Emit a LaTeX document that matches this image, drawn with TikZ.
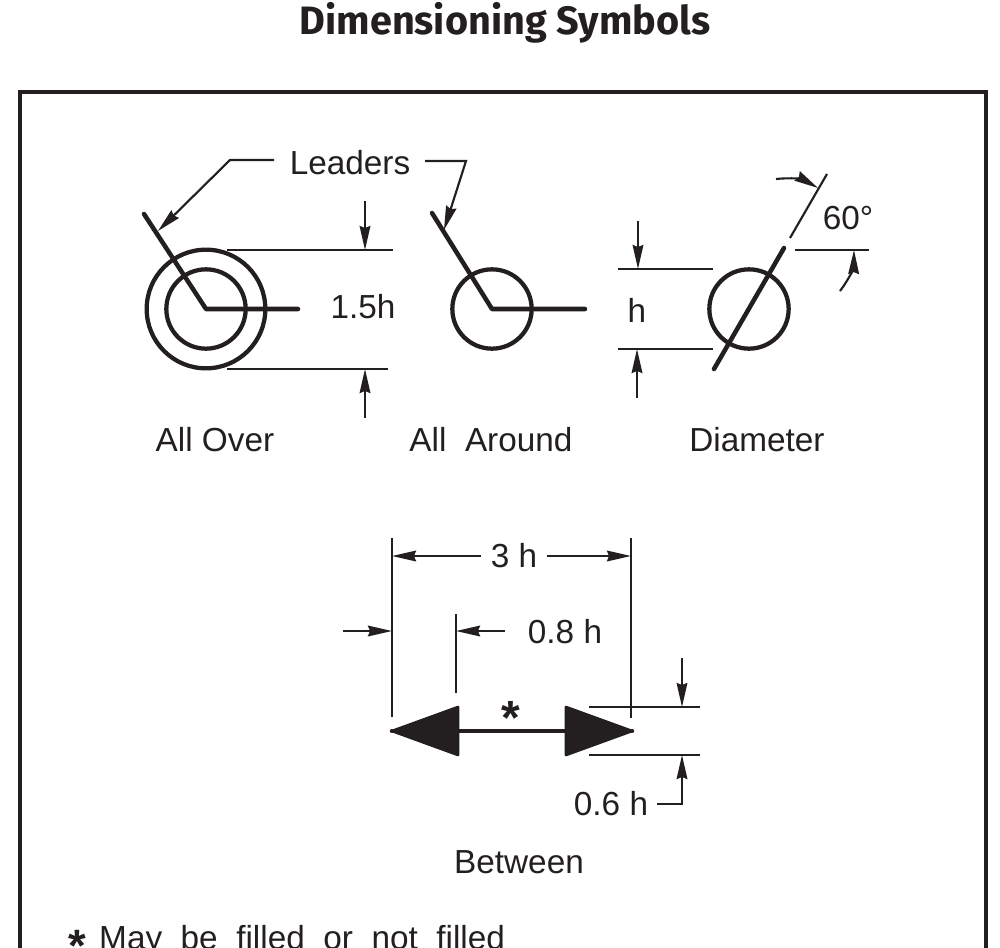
\documentclass[tikz,border=0pt]{standalone}
\usepackage{fontspec}
\setmainfont{Liberation Sans}
\newfontfamily\titlefont{Fira Sans}
\usetikzlibrary{arrows.meta}
\definecolor{inkblack}{HTML}{231F20}
\tikzset{
    label/.style={inner sep=0pt, font=\fontsize{25}{30}\selectfont, text=inkblack},
    ring/.style={circle, draw=inkblack, line width=3.2pt, inner sep=0pt},
    thickline/.style={draw=inkblack, line width=3.4pt, line cap=round, line join=round},
    thinline/.style={draw=inkblack, line width=1.6pt},
    dimline/.style={thinline, -{Stealth[length=18pt, width=8pt, inset=1.5pt]}},
    bighead/.style={fill=inkblack, draw=inkblack, line width=2pt, line join=round},
}
\begin{document}
\begin{tikzpicture}[x=0.75pt, y=-0.75pt]
    \useasboundingbox (0,0) rectangle (1000,947);

    \node[inner sep=0pt, text=inkblack, font=\titlefont\bfseries\fontsize{29.7}{34}\selectfont] (title) at (505,23) {Dimensioning Symbols};
    \coordinate (frameBL) at (20,960);
    \coordinate (frameTL) at (20,92);
    \coordinate (frameTR) at (986,92);
    \coordinate (frameBR) at (986,960);
    \draw[draw=inkblack, line width=3pt] (frameBL) -- (frameTL) -- (frameTR) -- (frameBR);

    \node[label] (leaders) at (350,163) {Leaders};
    \node[label] (onefive) at (363,307) {1.5h};
    \node[label] (hval) at (637,310) {h};
    \node[label] (sixty) at (848,218) {60°};
    \node[label] (allover) at (215,440) {All Over};
    \node[label] (allaround) at (491,440) {All\ \ Around};
    \node[label] (diameter) at (757,440) {Diameter};
    \node[label] (threeh) at (514,556) {3 h};
    \node[label] (eighth) at (565,632) {0.8 h};
    \node[label] (sixh) at (611,804) {0.6 h};
    \node[label] (between) at (519,862) {Between};
    \node[label, font=\bfseries\fontsize{36}{36}\selectfont] (star) at (511,718) {*};
    \node[label, anchor=base west] (note) at (68,949) {\raisebox{-9pt}{\bfseries\fontsize{34}{34}\selectfont *}\hspace{10pt}May\ \ be\ \ filled\ \ or\ \ not\ \ filled};

    % all over
    \node[ring, minimum width=89pt] (outer) at (206,309) {};
    \node[ring, minimum width=59.5pt] (inner) at (206,309) {};
    \coordinate (overC) at (206,309);
    \coordinate (overA) at (144,214);
    \coordinate (overB) at (298,309);
    \draw[thickline] (overA) -- (overC) -- (overB);
    \coordinate (leadA) at (274,160);
    \coordinate (leadB) at (230,160);
    \coordinate (leadTip) at (158,231);
    \draw[dimline] (leadA) -- (leadB) -- (leadTip);
    \coordinate (overT1) at (227,250);
    \coordinate (overT2) at (393,250);
    \coordinate (overB1) at (227,369);
    \coordinate (overB2) at (388,369);
    \coordinate (overTA) at (365,201);
    \coordinate (overTB) at (365,250);
    \coordinate (overBA) at (365,418);
    \coordinate (overBB) at (365,369);
    \draw[thinline] (overT1) -- (overT2);
    \draw[thinline] (overB1) -- (overB2);
    \draw[dimline] (overTA) -- (overTB);
    \draw[dimline] (overBA) -- (overBB);

    % all around
    \node[ring, minimum width=59.5pt] (around) at (492,309) {};
    \coordinate (aroundC) at (492,309);
    \coordinate (aroundA) at (432,213);
    \coordinate (aroundB) at (585,309);
    \draw[thickline] (aroundA) -- (aroundC) -- (aroundB);
    \coordinate (leadC) at (425,161);
    \coordinate (leadD) at (466,161);
    \coordinate (leadTipB) at (444,230);
    \draw[dimline] (leadC) -- (leadD) -- (leadTipB);

    % diameter
    \node[ring, minimum width=59.5pt] (dia) at (749,309) {};
    \coordinate (slashA) at (714,369);
    \coordinate (slashB) at (784,248);
    \draw[thickline] (slashA) -- (slashB);
    \coordinate (slantA) at (790,238);
    \coordinate (slantB) at (827,174);
    \draw[thinline] (slantA) -- (slantB);
    \coordinate (arcA) at (776,179);
    \coordinate (arcB) at (818,188);
    \draw[dimline] (arcA) to[bend left=18] (arcB);
    \coordinate (baseA) at (795,250);
    \coordinate (baseB) at (869,250);
    \draw[thinline] (baseA) -- (baseB);
    \coordinate (arcC) at (840,291);
    \coordinate (arcD) at (854,250);
    \draw[dimline] (arcC) to[bend right=18] (arcD);
    \coordinate (diaT1) at (618,269);
    \coordinate (diaT2) at (713,269);
    \coordinate (diaB1) at (618,349);
    \coordinate (diaB2) at (713,349);
    \coordinate (diaTA) at (638,221);
    \coordinate (diaTB) at (638,269);
    \coordinate (diaBA) at (637,398);
    \coordinate (diaBB) at (637,349);
    \draw[thinline] (diaT1) -- (diaT2);
    \draw[thinline] (diaB1) -- (diaB2);
    \draw[dimline] (diaTA) -- (diaTB);
    \draw[dimline] (diaBA) -- (diaBB);

    % between
    \coordinate (leftT) at (392,538);
    \coordinate (leftB) at (392,717);
    \coordinate (rightT) at (631,538);
    \coordinate (rightB) at (631,718);
    \coordinate (midT) at (456,614);
    \coordinate (midB) at (456,693);
    \draw[thinline] (leftT) -- (leftB);
    \draw[thinline] (rightT) -- (rightB);
    \draw[thinline] (midT) -- (midB);
    \coordinate (threeL) at (392,556);
    \coordinate (threeR) at (631,556);
    \draw[dimline] (threeh.west) ++(-10,0) -- (threeL);
    \draw[dimline] (threeh.east) ++(10,0) -- (threeR);
    \coordinate (eightA) at (505,631);
    \coordinate (eightB) at (456,631);
    \coordinate (eightC) at (343,631);
    \coordinate (eightD) at (392,631);
    \draw[dimline] (eightA) -- (eightB);
    \draw[dimline] (eightC) -- (eightD);
    \coordinate (headL) at (392,731);
    \coordinate (headLT) at (458,707);
    \coordinate (headLB) at (458,755);
    \coordinate (headR) at (632,731);
    \coordinate (headRT) at (566,707);
    \coordinate (headRB) at (566,755);
    \fill[bighead] (headL) -- (headLT) -- (headLB) -- cycle;
    \fill[bighead] (headR) -- (headRT) -- (headRB) -- cycle;
    \draw[thickline] (headL) -- (headR);
    \coordinate (topA) at (589,707);
    \coordinate (topB) at (700,707);
    \coordinate (lowA) at (589,755);
    \coordinate (lowB) at (700,755);
    \draw[thinline] (topA) -- (topB);
    \draw[thinline] (lowA) -- (lowB);
    \coordinate (sixA) at (682,658);
    \coordinate (sixB) at (682,707);
    \draw[dimline] (sixA) -- (sixB);
    \coordinate (sixC) at (657,804);
    \coordinate (sixD) at (682,804);
    \coordinate (sixE) at (682,755);
    \draw[dimline] (sixC) -- (sixD) -- (sixE);
\end{tikzpicture}
\end{document}
